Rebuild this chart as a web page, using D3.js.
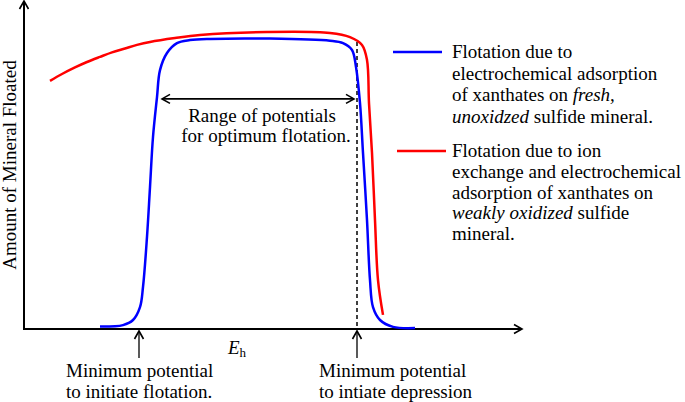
<!DOCTYPE html>
<html>
<head>
<meta charset="utf-8">
<script src="https://cdn.jsdelivr.net/npm/d3@7"></script>
<style>
  body { margin: 0; background: #fff; }
</style>
</head>
<body>
<svg id="Vis" width="685" height="402"></svg>
<script>
// curve values (potential, amount floated)
var blueX = [15, 19.6, 21.6, 23, 23.6, 24.4, 25, 25.6, 26.4, 27, 28.4, 30.4, 33, 37, 49, 61, 63.6, 65.4, 66.2, 67, 67.6, 68.4, 69, 69.6, 71, 73.6, 78];
var blueY = [0.8, 1.3, 3, 7.3, 14, 30.7, 47.3, 64, 77.3, 86.3, 92, 95.3, 96.3, 96.7, 96.8, 96.1, 95.3, 93, 87.3, 75.3, 58.7, 36.3, 16.3, 7.3, 3, 0.7, 0.3];
var redX  = [5, 7.4, 10, 12.4, 15, 17.4, 20, 22.4, 25, 30, 35, 48.4, 61, 65, 67.4, 68.4, 68.8, 69.4, 70, 70.6, 71.6];
var redY  = [82.7, 85, 87.2, 89, 90.7, 92.2, 93.5, 94.7, 95.7, 97, 98, 99, 98.7, 97.3, 94.7, 89.7, 75.3, 58.7, 36.3, 16.3, 4.7];

var markerX = [22.8, 66.4];          // min. potential for flotation / depression
var rangeX = [27.4, 65.8];           // range of optimum flotation
var rangeLevel = 76.7;
var dashTop = 95.7;

var blueLegend = [
  [["Flotation due to", 0]],
  [["electrochemical adsorption", 0]],
  [["of xanthates on ", 0], ["fresh,", 1]],
  [["unoxidzed", 1], [" sulfide mineral.", 0]]
];
var redLegend = [
  [["Flotation due to ion", 0]],
  [["exchange and electrochemical", 0]],
  [["adsorption of xanthates on", 0]],
  [["weakly oxidized", 1], [" sulfide", 0]],
  [["mineral.", 0]]
];

var serif = "'Liberation Serif', 'Times New Roman', Times, serif";

var svg = d3.select("#Vis");

var x = d3.scaleLinear().domain([0, 100]).range([25, 525]);
var y = d3.scaleLinear().domain([0, 100]).range([329, 29]);

function addText(parent, tx, ty, anchor){
  return parent.append("text")
    .attr("x", tx).attr("y", ty)
    .attr("text-anchor", anchor || "start")
    .attr("font-family", serif)
    .attr("font-size", 19)
    .attr("fill", "#000");
}

function arrowHead(g, tx, ty, dir){
  // open V arrow head pointing in direction dir (radians)
  var len = 8, w = 4.5;
  var bx = tx - len*Math.cos(dir), by = ty - len*Math.sin(dir);
  var nx = -Math.sin(dir), ny = Math.cos(dir);
  g.append("path")
   .attr("d", "M"+(bx+nx*w)+","+(by+ny*w)+" L"+tx+","+ty+" L"+(bx-nx*w)+","+(by-ny*w))
   .attr("fill", "none")
   .attr("stroke", "#000")
   .attr("stroke-width", 1.6);
}

// axes
var gAxis = svg.append("g");
gAxis.append("line")
  .attr("x1", 24).attr("y1", y(0)).attr("x2", 24).attr("y2", 1)
  .attr("stroke", "#000").attr("stroke-width", 2);
arrowHead(gAxis, 24, 1, -Math.PI/2);
gAxis.append("line")
  .attr("x1", 23).attr("y1", y(0)).attr("x2", 522).attr("y2", y(0))
  .attr("stroke", "#000").attr("stroke-width", 2);
arrowHead(gAxis, 522, y(0), 0);

addText(svg, 0, 0, "middle")
  .attr("transform", "translate(16,165) rotate(-90)")
  .text("Amount of Mineral Floated");

var eh = addText(svg, 228, 354);
eh.append("tspan").attr("font-style", "italic").text("E");
eh.append("tspan").attr("dy", 3).attr("font-size", 13).text("h");

// dashed depression line
svg.append("line")
  .attr("x1", x(markerX[1])).attr("x2", x(markerX[1]))
  .attr("y1", y(dashTop)).attr("y2", y(0))
  .attr("stroke", "#000").attr("stroke-width", 1.5)
  .attr("stroke-dasharray", "4,3");

// curves
var line = d3.line()
  .x(function(d){ return x(d[0]); })
  .y(function(d){ return y(d[1]); })
  .curve(d3.curveCatmullRom.alpha(0.5));

svg.append("path")
  .datum(redX.map(function(v,i){ return [v, redY[i]]; }))
  .attr("d", line)
  .attr("fill", "none").attr("stroke", "#ff0000").attr("stroke-width", 2.5);

svg.append("path")
  .datum(blueX.map(function(v,i){ return [v, blueY[i]]; }))
  .attr("d", line)
  .attr("fill", "none").attr("stroke", "#0000ff").attr("stroke-width", 2.5);

// range arrow
var gRange = svg.append("g");
gRange.append("line")
  .attr("x1", x(rangeX[0])).attr("x2", x(rangeX[1]))
  .attr("y1", y(rangeLevel)).attr("y2", y(rangeLevel))
  .attr("stroke", "#000").attr("stroke-width", 1.6);
arrowHead(gRange, x(rangeX[0]), y(rangeLevel), Math.PI);
arrowHead(gRange, x(rangeX[1]), y(rangeLevel), 0);
addText(svg, 262, 122, "middle").text("Range of potentials");
addText(svg, 266, 142, "middle").text("for optimum flotation.");

// marker arrows under the axis
var markerText = [["Minimum potential", "to initiate flotation."], ["Minimum potential", "to intiate depression"]];
var markerTextX = [66, 319];
markerX.forEach(function(m, i){
  var g = svg.append("g");
  g.append("line")
    .attr("x1", x(m)).attr("x2", x(m))
    .attr("y1", 358).attr("y2", y(0) + 2)
    .attr("stroke", "#000").attr("stroke-width", 1.3);
  arrowHead(g, x(m), y(0) + 2, -Math.PI/2);
  markerText[i].forEach(function(t, k){
    addText(g, markerTextX[i], 377 + k*21).text(t);
  });
});

// legend
function drawLegend(rows, color, lx1, lx2, ly, ty, dy){
  svg.append("line")
    .attr("x1", lx1).attr("x2", lx2).attr("y1", ly).attr("y2", ly)
    .attr("stroke", color).attr("stroke-width", 2.5);
  rows.forEach(function(r, k){
    var t = addText(svg, 452, ty + k*dy);
    r.forEach(function(p){
      t.append("tspan").attr("font-style", p[1] ? "italic" : "normal").text(p[0]);
    });
  });
}
drawLegend(blueLegend, "#0000ff", 393, 442, 52, 58, 21.7);
drawLegend(redLegend, "#ff0000", 397, 446, 151, 157, 20.8);
</script>
</body>
</html>
